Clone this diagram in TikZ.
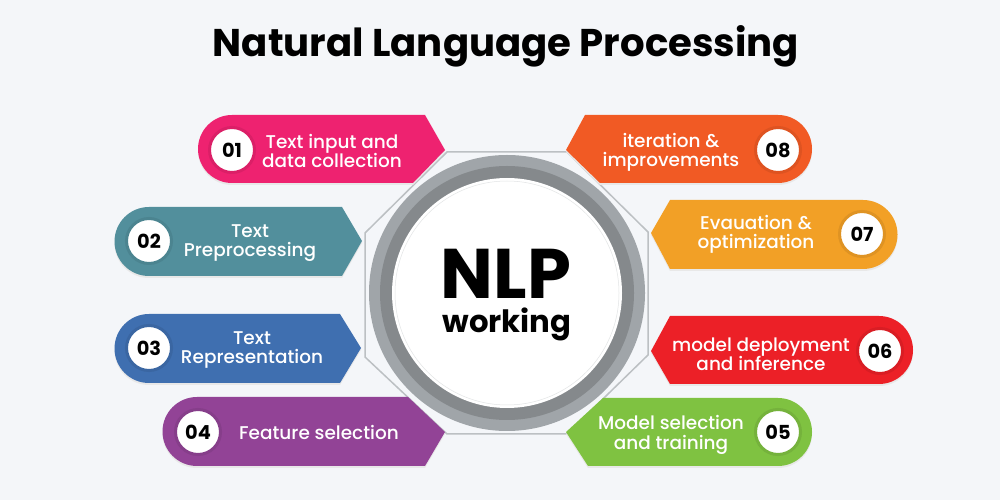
\documentclass[tikz,border=0pt]{standalone}
\usepackage{fontspec}
\setmainfont{Poppins}
\newfontfamily\medfont{Poppins Medium}
\newfontfamily\boldfont{Poppins}[UprightFont=* Bold]
\definecolor{pagebg}{HTML}{F4F6F9}
\definecolor{ringlight}{HTML}{A0A5A9}
\definecolor{ringdark}{HTML}{85898C}
\definecolor{pinkpill}{HTML}{EE2270}
\definecolor{tealpill}{HTML}{528F9C}
\definecolor{bluepill}{HTML}{3F6FB0}
\definecolor{purplepill}{HTML}{924396}
\definecolor{greenpill}{HTML}{7FC241}
\definecolor{redpill}{HTML}{EC2027}
\definecolor{amberpill}{HTML}{F2A026}
\definecolor{orangepill}{HTML}{F15A24}

\begin{document}
\begin{tikzpicture}
  [x=0.02cm, y=0.02cm,
    pill/.style={
      fill=#1,
      preaction={fill=black!9, transform canvas={yshift=-0.04cm}}
    },
    badge/.style={
      circle, fill=white,
      draw=#1!92!black, line width=0.06cm,
      minimum size=0.9cm, inner sep=0pt,
      font=\boldfont\fontsize{11}{13}\selectfont
    },
    caption/.style={
      text=white, align=center,
      font=\medfont\fontsize{10.5}{11}\selectfont
    }
  ]
  \fill[pagebg] (0,0) rectangle (1000,500);
  \node[font=\boldfont\fontsize{22}{26}\selectfont] (title) at (506,454) {Natural Language Processing};

  % octagon behind the ring
  \draw[ringlight!70, line width=0.03cm]
    (447,348) -- (567,348) -- (648,268) -- (648,145) -- (567,66) -- (447,66) -- (365,143) -- (365,267) -- cycle;

  % left pills
  \fill[pill=pinkpill] (445,350) -- (425,385) -- (232,385) arc[start angle=90, end angle=270, radius=34] -- (413,317) -- cycle;
  \fill[pill=tealpill] (362,259) -- (342,293) -- (149,293) arc[start angle=90, end angle=270, radius=34.5] -- (342,224) -- cycle;
  \fill[pill=bluepill] (361,152) -- (340,186) -- (149,186) arc[start angle=90, end angle=270, radius=34.5] -- (340,117) -- cycle;
  \fill[pill=purplepill] (445,68) -- (408,103) -- (197,103) arc[start angle=90, end angle=270, radius=34.5] -- (425,34) -- cycle;

  % right pills
  \fill[pill=orangepill] (566,350) -- (585,385) -- (778,385) arc[start angle=90, end angle=-90, radius=34] -- (600,317) -- cycle;
  \fill[pill=amberpill] (651,267) -- (670,300) -- (863,300) arc[start angle=90, end angle=-90, radius=34.5] -- (670,231) -- cycle;
  \fill[pill=redpill] (651,149) -- (670,184) -- (879,184) arc[start angle=90, end angle=-90, radius=34] -- (670,116) -- cycle;
  \fill[pill=greenpill] (566,68) -- (603,102) -- (778,102) arc[start angle=90, end angle=-90, radius=34] -- (588,34) -- cycle;

  % numbers
  \node[badge=pinkpill] (n1) at (232,350) {01};
  \node[badge=tealpill] (n2) at (149,259) {02};
  \node[badge=bluepill] (n3) at (149,152) {03};
  \node[badge=purplepill] (n4) at (198,68) {04};
  \node[badge=greenpill] (n5) at (778,68) {05};
  \node[badge=redpill] (n6) at (880,149) {06};
  \node[badge=amberpill] (n7) at (862,266) {07};
  \node[badge=orangepill] (n8) at (778,350) {08};

  % labels
  \node[caption] (t1) at (332,349) {Text input and\\data collection};
  \node[caption] (t2) at (250,257) {Text\\Preprocessing};
  \node[caption] (t3) at (252,150) {Text\\Representation};
  \node[caption] (t4) at (319,68) {Feature selection};
  \node[caption] (t5) at (671,65) {Model selection\\and training};
  \node[caption] (t6) at (761,146) {model deployment\\and inference};
  \node[caption] (t7) at (756,266) {Evauation \&\\optimization};
  \node[caption] (t8) at (671,348) {iteration \&\\improvements};

  % centre
  \fill[ringlight] (507,207) circle (138);
  \fill[ringdark] (507,207) circle (127);
  \fill[white] (507,207) circle (115);
  \draw[ringlight!30, line width=0.01cm] (507,207) circle (112);
  \node[inner sep=0pt, font=\boldfont\fontsize{40}{42}\selectfont] (nlp) at (506,226) {NLP};
  \node[inner sep=0pt, font=\boldfont\fontsize{17.5}{20}\selectfont] (working) at (507,176) {working};
\end{tikzpicture}
\end{document}
